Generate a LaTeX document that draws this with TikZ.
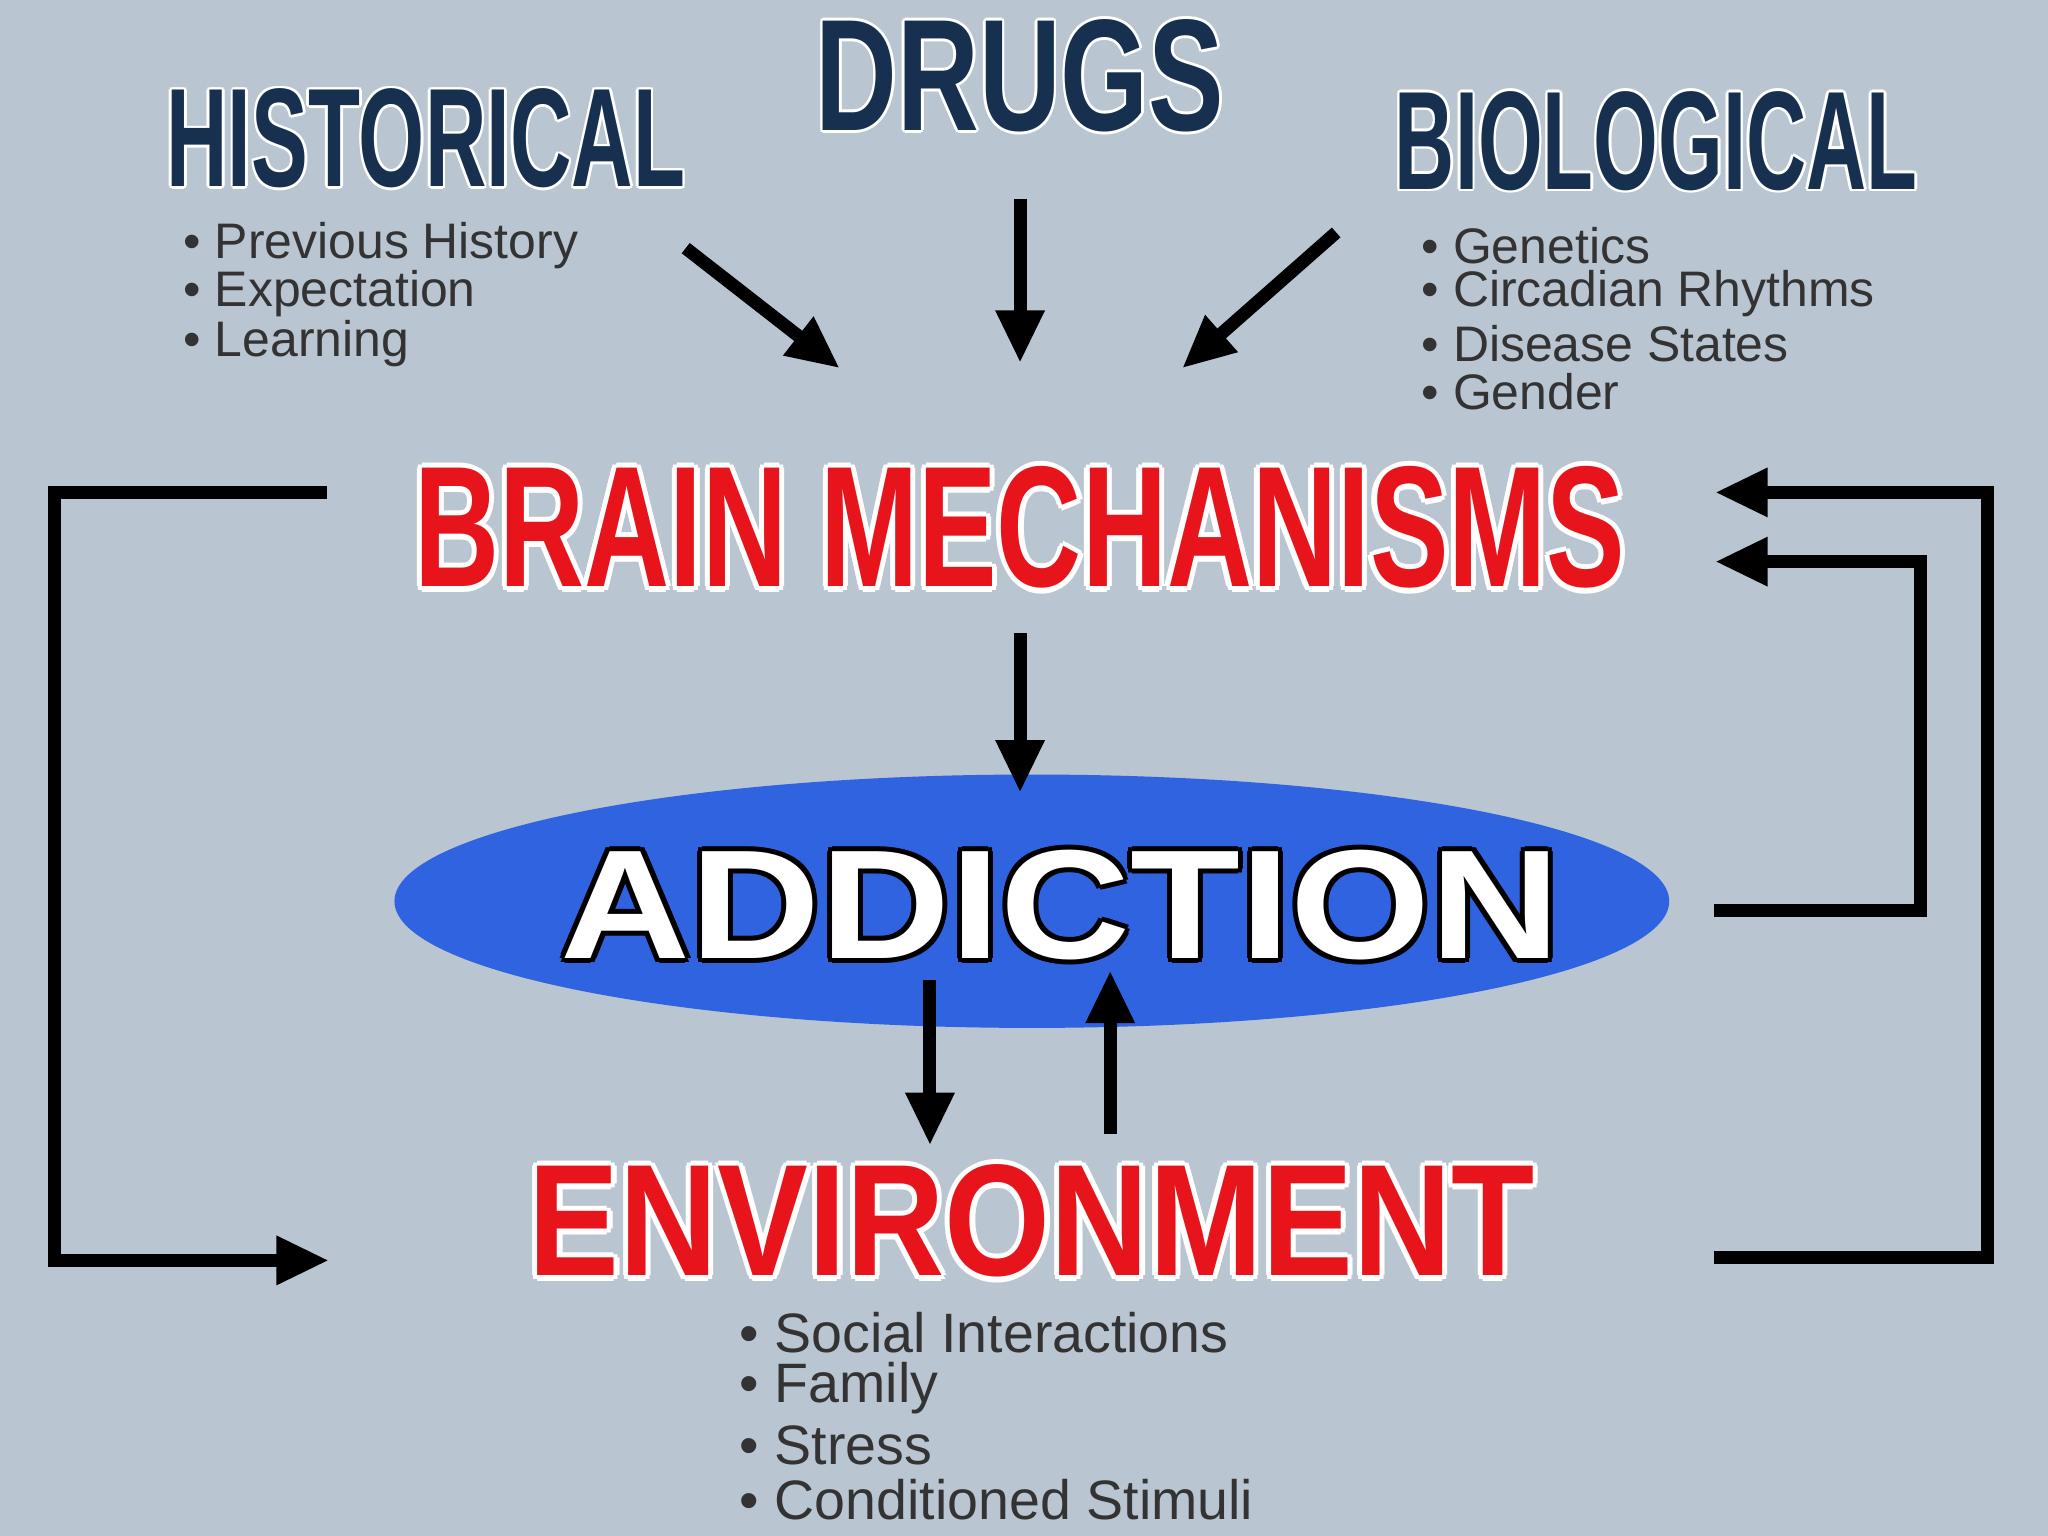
\documentclass[tikz,border=0pt]{standalone}
\usepackage{fontspec}
\usepackage{graphicx}
\setmainfont{Liberation Sans}
\usetikzlibrary{arrows.meta}
\definecolor{bg}{HTML}{B9C5D1}
\definecolor{navy}{HTML}{17304F}
\definecolor{bred}{HTML}{E8141B}
\definecolor{eblue}{HTML}{2F63E0}
\newcommand{\fitbox}[3]{\resizebox{\dimexpr 0.3716pt*#1\relax}{\dimexpr 0.3716pt*#2\relax}{\bfseries #3}}
\tikzset{
  arr/.style={line width=3.7pt,-{Triangle[length=15pt,width=13pt]}},
  bul/.style={anchor=west,font=\fontsize{14.2}{16}\selectfont,text=black!80,inner sep=0pt},
  bulb/.style={anchor=west,font=\fontsize{15.8}{18}\selectfont,text=black!80,inner sep=0pt},
}
\begin{document}
\begin{tikzpicture}[x=0.01306cm,y=-0.01306cm]
\fill[bg] (0,0) rectangle (1568,1176);
\useasboundingbox (0,0) rectangle (1568,1176);
% glow titles
\foreach \dx/\dy in {-2/0,2/0,0/-2,0/2,-1.5/-1.5,1.5/1.5,-1.5/1.5,1.5/-1.5}{
  \node[inner sep=0pt,text=white] at (326+\dx,106+\dy) {\fitbox{397}{75}{HISTORICAL}};
  \node[inner sep=0pt,text=white] at (781+\dx,58+\dy) {\fitbox{313}{85}{DRUGS}};
  \node[inner sep=0pt,text=white] at (1268+\dx,108+\dy) {\fitbox{400}{75}{BIOLOGICAL}};
  \node[inner sep=0pt,text=white] at (781+2*\dx,404+2*\dy) {\fitbox{927}{92}{BRAIN MECHANISMS}};
  \node[inner sep=0pt,text=white] at (790+2*\dx,935+2*\dy) {\fitbox{770}{85}{ENVIRONMENT}};
}
\node[inner sep=0pt,text=navy] (hist) at (326,106) {\fitbox{397}{75}{HISTORICAL}};
\node[inner sep=0pt,text=navy] (drugs) at (781,58) {\fitbox{313}{85}{DRUGS}};
\node[inner sep=0pt,text=navy] (bio) at (1268,108) {\fitbox{400}{75}{BIOLOGICAL}};
\node[inner sep=0pt,text=bred] (brain) at (781,404) {\fitbox{927}{92}{BRAIN MECHANISMS}};
\node[inner sep=0pt,text=bred] (env) at (790,935) {\fitbox{770}{85}{ENVIRONMENT}};
% ellipse
\fill[eblue] (790,690) ellipse [x radius=488, y radius=97];
\foreach \dx/\dy in {-4/0,4/0,0/-4,0/4,-3/-3,3/3,-3/3,3/-3}{
  \node[inner sep=0pt,text=black] at (812+\dx,693+\dy) {\fitbox{765}{83}{ADDICTION}};}
\node[inner sep=0pt,text=white] (add) at (812,693) {\fitbox{765}{83}{ADDICTION}};
% bullets
\node[bul] (h1) at (140,188) {•\ Previous History};
\node[bul] (h2) at (140,225) {•\ Expectation};
\node[bul] (h3) at (140,263) {•\ Learning};
\node[bul] (b1) at (1088,188) {•\ Genetics};
\node[bul] (b2) at (1088,225) {•\ Circadian Rhythms};
\node[bul] (b3) at (1088,263) {•\ Disease States};
\node[bul] (b4) at (1088,300) {•\ Gender};
\node[bulb] (e1) at (566,1020) {•\ Social Interactions};
\node[bulb] (e2) at (566,1063) {•\ Family};
\node[bulb] (e3) at (566,1107) {•\ Stress};
\node[bulb] (e4) at (566,1148) {•\ Conditioned Stimuli};
% coordinates
\coordinate (a1s) at (525,190); \coordinate (a1e) at (643,282);
\coordinate (a2s) at (781,152); \coordinate (a2e) at (781,278);
\coordinate (a3s) at (1023,178); \coordinate (a3e) at (905,282);
\coordinate (a4s) at (781,485); \coordinate (a4e) at (781,607);
\coordinate (a5s) at (712,750); \coordinate (a5e) at (712,877);
\coordinate (a6s) at (850,868); \coordinate (a6e) at (850,743);
\coordinate (l1) at (250,377); \coordinate (l2) at (42,377); \coordinate (l3) at (42,965); \coordinate (l4) at (252,965);
\coordinate (r1) at (1312,963); \coordinate (r2) at (1522,963); \coordinate (r3) at (1522,377); \coordinate (r4) at (1313,377);
\coordinate (s1) at (1312,697); \coordinate (s2) at (1470,697); \coordinate (s3) at (1470,430); \coordinate (s4) at (1313,430);
\draw[arr] (a1s) -- (a1e);
\draw[arr] (a2s) -- (a2e);
\draw[arr] (a3s) -- (a3e);
\draw[arr] (a4s) -- (a4e);
\draw[arr] (a5s) -- (a5e);
\draw[arr] (a6s) -- (a6e);
\draw[arr] (l1) -- (l2) -- (l3) -- (l4);
\draw[arr] (r1) -- (r2) -- (r3) -- (r4);
\draw[arr] (s1) -- (s2) -- (s3) -- (s4);
\end{tikzpicture}
\end{document}
